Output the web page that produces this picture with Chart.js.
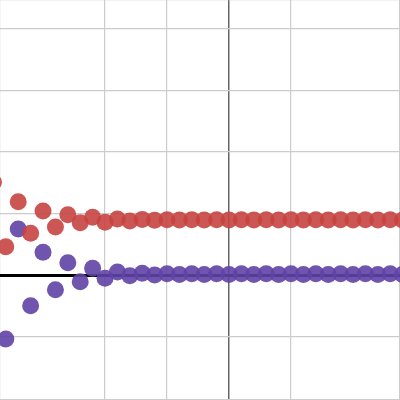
<!DOCTYPE html>
<html><head><meta charset="utf-8">
<script src="https://cdn.jsdelivr.net/npm/chart.js@4"></script>
<style>html,body{margin:0;padding:0;background:#fff}#w{width:400px;height:400px}</style>
</head><body><div id="w"><canvas id="c"></canvas></div>
<script>
const xStart = -3.8, xStep = 0.2;
const redValues = [1.51,0.46,1.19,0.68,1.04,0.78,0.98,0.85,0.94,0.86,0.91,0.88,0.905,0.89,0.90,0.895,0.90,0.895,0.90,0.895,0.90,0.895,0.90,0.895,0.90,0.895,0.90,0.895,0.90,0.895,0.90,0.895,0.90,0.895];
const purpleValues = [-2.4,-1.04,0.75,-0.5,0.37,-0.24,0.2,-0.11,0.11,-0.05,0.05,-0.01,0.03,0.0,0.02,0.01,0.02,0.01,0.02,0.01,0.02,0.01,0.02,0.01,0.02,0.01,0.02,0.01,0.02,0.01,0.02,0.01,0.02,0.01];
const toPts = v => v.map((y,i)=>({x:+(xStart+i*xStep).toFixed(2), y}));
new Chart(document.getElementById('c'),{
  type:'scatter',
  data:{datasets:[
    {data:toPts(redValues),backgroundColor:'rgba(199,68,64,0.9)',borderWidth:0,pointRadius:8.5},
    {data:toPts(purpleValues),backgroundColor:'rgba(96,66,166,0.9)',borderWidth:0,pointRadius:8.5}
  ]},
  options:{
    responsive:true,maintainAspectRatio:false,animation:false,
    layout:{padding:0,autoPadding:false},
    plugins:{legend:{display:false},tooltip:{enabled:false}},
    scales:{
      x:{min:-3.694,max:2.758,ticks:{display:false,stepSize:1},border:{display:false},
         grid:{drawTicks:false,color:c=>c.tick&&c.tick.value===0?'#666':'#ccc',lineWidth:c=>c.tick&&c.tick.value===0?1.5:1.2}},
      y:{min:-2.03,max:4.47,ticks:{display:false,stepSize:1},border:{display:false},
         grid:{drawTicks:false,color:c=>c.tick&&c.tick.value===0?'#000':'#ccc',lineWidth:c=>c.tick&&c.tick.value===0?3:1.2}}
    }
  }
});
</script></body></html>
